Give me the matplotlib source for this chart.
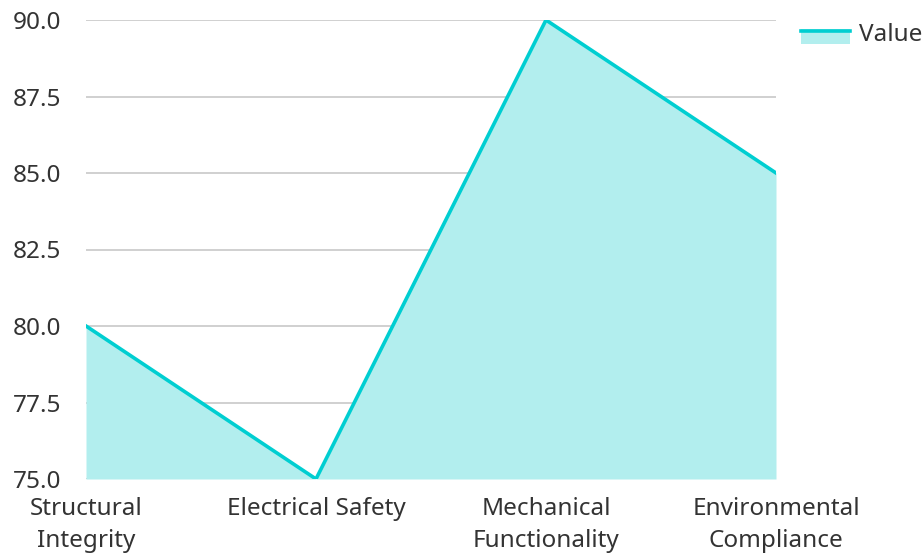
import matplotlib
matplotlib.use("Agg")
import matplotlib.pyplot as plt
from matplotlib.patches import Rectangle
from matplotlib.lines import Line2D
from matplotlib.legend_handler import HandlerBase

categories = ["Structural\nIntegrity", "Electrical Safety", "Mechanical\nFunctionality", "Environmental\nCompliance"]
values = [80, 75, 90, 85]
yticks = [75.0, 77.5, 80.0, 82.5, 85.0, 87.5, 90.0]
series_name = "Value"

LINE = "#00CED1"
FILL = "#B2EEEE"
FS = 17.5

plt.rcParams['font.family'] = ['Noto Sans', 'DejaVu Sans']

fig = plt.figure(figsize=(9.23, 5.53), dpi=100)
ax = fig.add_axes([86/923, 1-479/553, (776-86)/923, (479-20)/553])

x = list(range(len(categories)))
ax.fill_between(x, values, 75, color=FILL, linewidth=0, zorder=2)
ax.plot(x, values, color=LINE, linewidth=2.6, zorder=3)

ax.set_xlim(0, len(categories)-1)
ax.set_ylim(75, 90)
ax.set_yticks(yticks)
ax.set_yticklabels([f"{v:.1f}" for v in yticks])
ax.set_xticks(x)
ax.set_xticklabels(categories, linespacing=1.45)
ax.tick_params(axis='both', length=0, labelsize=FS, colors="#333333")
ax.tick_params(axis='x', pad=13)
ax.tick_params(axis='y', pad=18)
ax.grid(axis='y', color="#C8C8C8", linewidth=1.2, zorder=1)
ax.set_axisbelow(True)
for s in ax.spines.values():
    s.set_visible(False)


class AreaHandler(HandlerBase):
    def create_artists(self, legend, orig_handle, xdescent, ydescent, width, height, fontsize, trans):
        off = -3
        r = Rectangle((-xdescent, -ydescent + off), width, height, facecolor=FILL, edgecolor='none', transform=trans)
        l = Line2D([-xdescent, -xdescent + width], [-ydescent + height - 1.5 + off, -ydescent + height - 1.5 + off],
                   color=LINE, linewidth=2.6, transform=trans)
        return [r, l]


handle = Rectangle((0, 0), 1, 1)
leg = fig.legend([handle], [series_name], handler_map={Rectangle: AreaHandler()},
                 loc='upper left', bbox_to_anchor=(801/923, 1-23/553), frameon=False,
                 fontsize=FS, handlelength=2.0, handleheight=0.53, handletextpad=0.37,
                 borderaxespad=0, borderpad=0)
for t in leg.get_texts():
    t.set_color("#333333")

fig.savefig("out.png", dpi=100)
